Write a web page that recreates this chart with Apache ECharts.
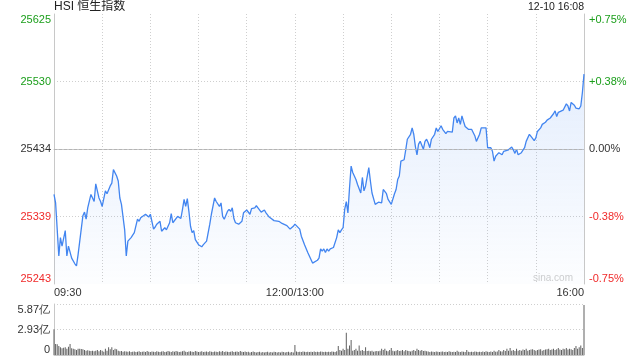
<!DOCTYPE html>
<html><head><meta charset="utf-8">
<script src="https://cdn.jsdelivr.net/npm/echarts@6/dist/echarts.min.js"></script>
<style>html,body{margin:0;padding:0;background:#fff;}#c{width:640px;height:360px;}</style>
</head><body><div id="c"></div>
<script>
var titleText = 'HSI 恒生指数';
var stampText = '12-10 16:08';
var prevClose = 25434.2;
var priceTickLabels = ['25243', '25339', '25434', '25530', '25625'];
var pctTickLabels = ['-0.75%', '-0.38%', '0.00%', '+0.38%', '+0.75%'];
var volTickLabels = ['0', '2.93亿', '5.87亿'];
var timeTickMinutes = [0, 150, 330];
var timeTickLabels = ['09:30', '12:00/13:00', '16:00'];

// trading minute index from 09:30 (13:00 = 150)
var priceMinute = [0,1,3,4,5,6,7,8,9,10,11,13,14,15,16,18,19,20,21,23,25,26,28,29,30,32,33,35,36,37,39,40,41,42,44,45,46,48,50,52,53,54,55,57,58,59,60,62,63,64,66,67,69,70,72,73,74,75,77,79,80,81,82,83,84,85,86,87,88,90,92,93,95,96,97,98,100,101,103,104,105,106,108,109,110,111,112,113,115,117,118,120,121,122,123,125,126,127,129,130,131,132,134,135,137,138,140,141,142,143,145,146,147,149,150,151,153,154,156,157,158,159,161,162,164,165,166,167,168,169,170,171,172,173,174,176,177,178,179,180,181,182,183,184,185,186,188,189,190,191,192,193,194,196,197,198,200,201,202,204,205,206,207,208,210,211,212,213,214,215,216,218,219,220,222,223,224,225,226,227,228,229,230,231,232,233,234,235,237,238,239,240,241,242,244,245,246,248,249,250,251,252,253,254,255,256,258,259,260,262,263,264,265,266,267,269,270,271,272,273,274,275,276,277,279,280,281,283,284,285,286,287,288,289,290,291,293,294,296,297,299,300,301,302,303,304,306,307,309,311,312,313,314,315,317,318,319,320,321,322,323,324,325,327,328,329,330];
var price = [25370,25358,25283,25309,25297,25298,25319,25283,25297,25295,25280,25272,25269,25285,25284,25340,25345,25335,25351,25370,25360,25385,25365,25360,25353,25375,25371,25382,25386,25405,25396,25389,25365,25356,25320,25283,25304,25309,25316,25335,25332,25337,25335,25342,25343,25338,25342,25321,25324,25328,25332,25318,25323,25320,25330,25343,25330,25330,25339,25336,25349,25363,25353,25364,25346,25325,25316,25319,25306,25299,25296,25299,25304,25304,25328,25342,25365,25360,25353,25358,25339,25335,25346,25349,25346,25351,25336,25330,25328,25332,25344,25348,25349,25342,25350,25351,25354,25351,25345,25345,25348,25344,25338,25336,25333,25333,25332,25334,25329,25330,25326,25328,25321,25325,25328,25328,25321,25311,25299,25297,25288,25287,25273,25274,25277,25280,25293,25290,25293,25288,25293,25290,25293,25293,25295,25309,25320,25316,25320,25323,25349,25360,25344,25379,25410,25401,25391,25384,25386,25372,25394,25375,25382,25408,25389,25372,25356,25358,25359,25358,25377,25375,25371,25363,25356,25358,25371,25377,25391,25396,25417,25419,25433,25448,25455,25464,25455,25438,25426,25441,25445,25443,25434,25445,25448,25443,25436,25448,25455,25464,25459,25458,25467,25462,25456,25459,25457,25458,25478,25481,25471,25478,25469,25481,25473,25466,25462,25464,25462,25453,25445,25445,25455,25464,25466,25464,25436,25434,25436,25431,25417,25424,25422,25429,25426,25431,25433,25433,25434,25437,25433,25428,25434,25426,25424,25429,25436,25445,25455,25452,25446,25450,25459,25458,25464,25469,25472,25475,25478,25484,25488,25480,25486,25485,25489,25489,25498,25495,25488,25500,25500,25496,25492,25491,25495,25514,25540];

// volume per minute, in 亿 (minute 0 .. 330)
var volume = [
2.95,1.27,1.25,1.04,0.88,0.77,0.84,0.88,0.73,0.96,
1.27,0.77,0.73,0.65,0.58,0.73,0.73,0.69,0.65,0.58,
0.50,0.54,0.50,0.46,0.50,0.42,0.50,0.58,0.42,0.58,
0.50,0.38,0.73,0.50,0.88,0.65,0.88,0.58,0.73,0.65,
0.50,0.42,0.46,0.38,0.42,0.40,0.38,0.42,0.35,0.38,
0.40,0.35,0.38,0.42,0.35,0.38,0.40,0.35,0.46,0.38,
0.35,0.40,0.38,0.35,0.42,0.38,0.35,0.40,0.42,0.35,
0.38,0.46,0.40,0.35,0.42,0.38,0.46,0.40,0.35,0.38,
0.42,0.50,0.38,0.35,0.40,0.42,0.38,0.35,0.46,0.40,
0.35,0.38,0.42,0.35,0.38,0.40,0.35,0.42,0.38,0.35,
0.40,0.38,0.35,0.42,0.38,0.46,0.35,0.40,0.38,0.35,
0.38,0.42,0.35,0.38,0.40,0.35,0.46,0.38,0.35,0.40,
0.35,0.38,0.30,0.35,0.40,0.35,0.30,0.35,0.38,0.30,
0.35,0.30,0.35,0.38,0.30,0.35,0.30,0.38,0.35,0.30,
0.35,0.30,0.38,0.35,0.30,0.35,0.38,0.30,0.35,0.30,
1.15,0.40,0.35,0.38,0.35,0.40,0.38,0.35,0.38,0.35,
0.38,0.35,0.40,0.35,0.38,0.35,0.40,0.38,0.35,0.38,
0.35,0.38,0.35,0.40,0.38,0.35,0.42,1.04,0.58,0.50,
0.73,0.58,2.57,0.73,1.10,1.73,0.50,0.58,0.73,0.50,
1.10,0.50,0.58,0.46,0.88,0.46,0.50,0.42,0.50,0.38,
0.42,0.46,0.42,0.50,0.73,0.58,0.73,0.50,0.42,0.58,
0.80,0.50,0.42,0.50,0.58,0.46,0.50,0.58,0.42,0.58,
0.50,0.46,0.40,0.50,0.58,0.46,0.73,0.58,0.50,0.58,
0.46,0.50,0.42,0.40,0.35,0.40,0.38,0.35,0.40,0.38,
0.35,0.38,0.40,0.35,0.38,0.35,0.42,0.38,0.35,0.38,
0.35,0.50,0.38,0.35,0.40,0.38,0.35,0.58,0.38,0.35,
0.38,0.35,0.40,0.38,0.35,0.38,0.35,0.40,0.35,0.42,
0.38,0.35,0.40,0.35,0.50,0.38,0.40,0.58,0.42,0.40,
0.58,0.46,0.73,0.50,0.80,0.50,0.58,0.46,0.73,0.50,
0.58,0.50,0.62,0.58,0.73,0.50,0.58,0.62,0.65,0.58,
0.50,0.58,0.62,0.65,0.50,0.58,0.62,0.65,0.73,0.58,
0.62,0.73,0.58,0.65,0.80,0.62,0.58,0.73,0.65,0.80,
0.62,0.73,0.65,0.58,0.80,1.04,0.73,0.88,1.10,0.80,
5.75];

var GREEN = '#1a9e1a', RED = '#f02a2a', TXT = '#333';
var lineData = priceMinute.map(function (m, i) { return [m, (price[i] / prevClose - 1) * 100]; });
var volData = volume.map(function (v, i) { return [i, v]; });
function pctColor(idx) { return idx > 2 ? GREEN : (idx < 2 ? RED : TXT); }

var chart = echarts.init(document.getElementById('c'), null, { renderer: 'canvas' });
chart.setOption({
  animation: false,
  textStyle: { fontFamily: 'Liberation Sans, Arial, sans-serif' },
  title: [
    { text: titleText, left: 54, top: 0, padding: 0, textStyle: { fontSize: 12, fontWeight: 'normal', color: '#222', fontFamily: 'Liberation Sans, Noto Sans CJK SC, sans-serif', lineHeight: 14 } },
    { text: stampText, right: 56, top: 1, padding: 0, textStyle: { fontSize: 10.5, fontWeight: 'normal', color: '#222', lineHeight: 12 } }
  ],
  graphic: [
    { type: 'text', right: 67, top: 273, silent: true, style: { text: 'sina.com', fill: '#cfcfcf', font: '10px Liberation Sans, Arial, sans-serif' } }
  ],
  grid: [
    { left: 54, right: 56, top: 14, height: 270 },
    { left: 54, right: 56, top: 304, height: 51 }
  ],
  xAxis: [
    { type: 'value', gridIndex: 0, min: 0, max: 330, interval: 30,
      axisLine: { show: true, lineStyle: { color: '#c8c8c8' } }, axisTick: { show: false },
      splitLine: { show: true, showMinLine: false, showMaxLine: false, lineStyle: { color: '#cfcfcf', type: [1, 2] } },
      axisLabel: { margin: 3, fontSize: 11, color: TXT, alignMinLabel: 'left', alignMaxLabel: 'right', showMinLabel: true, showMaxLabel: true,
        formatter: function (v) { var k = timeTickMinutes.indexOf(v); return k >= 0 ? timeTickLabels[k] : ''; } } },
    { type: 'value', gridIndex: 1, min: 0, max: 330, interval: 30,
      axisLine: { show: true, lineStyle: { color: '#c8c8c8' } }, axisTick: { show: false },
      splitLine: { show: false }, axisLabel: { show: false } }
  ],
  yAxis: [
    { type: 'value', gridIndex: 0, min: -0.75, max: 0.75, interval: 0.375, position: 'left',
      axisLine: { show: true, lineStyle: { color: '#c8c8c8' } }, axisTick: { show: false },
      splitLine: { show: true, showMaxLine: false, showMinLine: false, lineStyle: { color: '#cfcfcf', type: [1, 2] } },
      axisLabel: { margin: 3, fontSize: 11, verticalAlignMaxLabel: 'top', verticalAlignMinLabel: 'bottom',
        formatter: function (v, i) { return priceTickLabels[i]; },
        color: function (v, i) { return pctColor(i); } } },
    { type: 'value', gridIndex: 0, min: -0.75, max: 0.75, interval: 0.375, position: 'right',
      axisLine: { show: true, lineStyle: { color: '#c8c8c8' } }, axisTick: { show: false },
      splitLine: { show: false },
      axisLabel: { margin: 5, fontSize: 11, verticalAlignMaxLabel: 'top', verticalAlignMinLabel: 'bottom',
        formatter: function (v, i) { return pctTickLabels[i]; },
        color: function (v, i) { return pctColor(i); } } },
    { type: 'value', gridIndex: 1, min: 0, max: 5.87, interval: 2.935,
      axisLine: { show: true, lineStyle: { color: '#c8c8c8' } }, axisTick: { show: false },
      splitLine: { show: true, showMinLine: false, lineStyle: { color: '#cfcfcf', type: [1, 2] } },
      axisLabel: { margin: 4, fontSize: 11, color: TXT, verticalAlignMaxLabel: 'top', verticalAlignMinLabel: 'bottom',
        formatter: function (v, i) { return volTickLabels[i]; } } }
  ],
  series: [
    { type: 'line', xAxisIndex: 0, yAxisIndex: 0, data: lineData, symbol: 'none', smooth: false,
      lineStyle: { color: '#4285f0', width: 1.3 },
      areaStyle: { origin: 'start', color: new echarts.graphic.LinearGradient(0, 0, 0, 1, [
        { offset: 0, color: 'rgba(66,133,240,0.20)' }, { offset: 1, color: 'rgba(66,133,240,0.02)' }]) },
      markLine: { silent: true, symbol: 'none', label: { show: false },
        lineStyle: { color: '#b4b4b4', type: [3, 2], width: 1 }, data: [{ yAxis: 0 }] } },
    { type: 'bar', xAxisIndex: 1, yAxisIndex: 2, data: volData, barWidth: 1, itemStyle: { color: '#606060' } }
  ]
});
</script></body></html>
